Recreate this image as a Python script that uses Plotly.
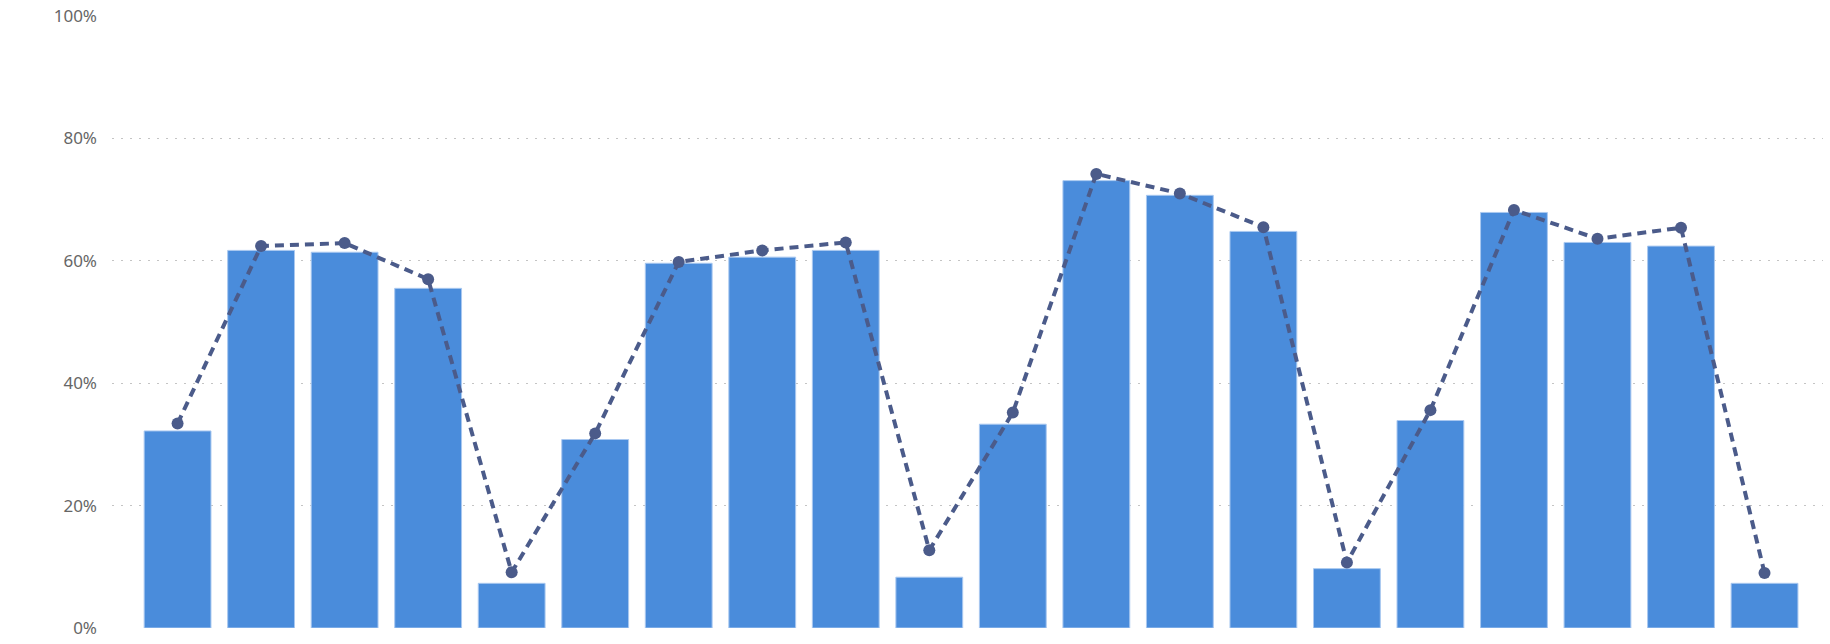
import plotly.graph_objects as go

# 20 periods, no x labels shown in the chart
periods = list(range(1, 21))

bar_values = [32.2, 61.7, 61.4, 55.5, 7.3, 30.8, 59.6, 60.6, 61.7, 8.3,
              33.3, 73.1, 70.7, 64.8, 9.7, 33.9, 67.9, 63.0, 62.4, 7.3]
line_values = [33.4, 62.4, 62.9, 57.0, 9.1, 31.8, 59.8, 61.7, 63.0, 12.7,
               35.2, 74.2, 71.0, 65.5, 10.7, 35.6, 68.3, 63.6, 65.4, 9.0]

y_ticks = [0, 20, 40, 60, 80, 100]
y_labels = ["0%", "20%", "40%", "60%", "80%", "100%"]

fig = go.Figure()

fig.add_bar(x=periods, y=bar_values,
            marker=dict(color="#4a8cdb", line=dict(color="#a9c8f0", width=1)),
            hoverinfo="y")

fig.add_scatter(x=periods, y=line_values, mode="lines+markers",
                line=dict(color="#4b5b8a", width=4, dash="9px,6px"),
                marker=dict(color="#4b5b8a", size=12),
                hoverinfo="y")

fig.update_layout(
    width=1830, height=644,
    margin=dict(l=112, r=7, t=16, b=16),
    plot_bgcolor="white", paper_bgcolor="white",
    showlegend=False, bargap=0.2,
    font=dict(family="Segoe UI, Noto Sans, sans-serif", size=17, color="#666666"),
)

fig.update_xaxes(range=[0.215, 20.70], showticklabels=False, showgrid=False,
                 zeroline=False, showline=False, ticks="", automargin=False)
fig.update_yaxes(range=[0, 100], tickvals=y_ticks, ticktext=y_labels,
                 showgrid=True, gridcolor="#c4c4c4", gridwidth=1, griddash="1.5px,7.5px",
                 zeroline=False, showline=False, ticks="", ticklabelstandoff=14,
                 ticklabeloverflow="allow", automargin=False)

# drop the browser's default 8px body margin so the figure fills the window
fig.write_html("out.html", config={"displayModeBar": False},
               post_script="document.body.style.margin = '0';")
